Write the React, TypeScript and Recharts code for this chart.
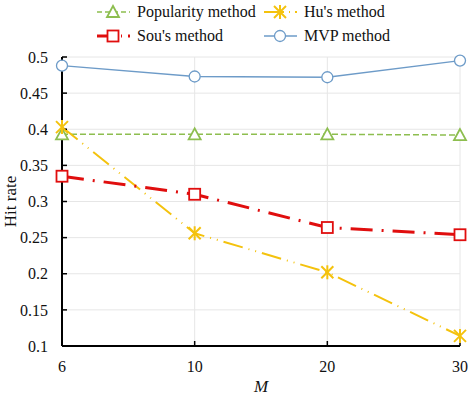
import React from "react";
import { LineChart, Line, XAxis, YAxis, CartesianGrid } from "recharts";

// Chart values
const mValues = ["6", "10", "20", "30"];
const popularity = [0.393, 0.393, 0.393, 0.392];
const hu = [0.403, 0.256, 0.202, 0.114];
const sou = [0.335, 0.31, 0.264, 0.254];
const mvp = [0.488, 0.473, 0.472, 0.495];
const yTicks = [0.1, 0.15, 0.2, 0.25, 0.3, 0.35, 0.4, 0.45, 0.5];

const data = mValues.map((m, i) => ({
    m,
    popularity: popularity[i],
    hu: hu[i],
    sou: sou[i],
    mvp: mvp[i],
}));

const FONT = "'Times New Roman', 'Liberation Serif', Tinos, serif";
const GREEN = "#8DBE4F";
const YELLOW = "#F4C20D";
const RED = "#E00E0E";
const BLUE = "#6D9BC8";

const Triangle = (props: any) => {
    const { cx, cy } = props;
    if (cx == null || cy == null) return null;
    return (
        <polygon
            points={`${cx},${cy - 6} ${cx - 6},${cy + 5} ${cx + 6},${cy + 5}`}
            fill="#fff"
            stroke={GREEN}
            strokeWidth={1.8}
        />
    );
};

const Square = (props: any) => {
    const { cx, cy } = props;
    if (cx == null || cy == null) return null;
    return <rect x={cx - 5.5} y={cy - 5.5} width={11} height={11} fill="#fff" stroke={RED} strokeWidth={1.8} />;
};

const Star = (props: any) => {
    const { cx, cy } = props;
    if (cx == null || cy == null) return null;
    return (
        <g stroke={YELLOW} strokeWidth={2}>
            <line x1={cx - 6} y1={cy - 6} x2={cx + 6} y2={cy + 6} />
            <line x1={cx - 6} y1={cy + 6} x2={cx + 6} y2={cy - 6} />
            <line x1={cx} y1={cy - 7} x2={cx} y2={cy + 7} />
        </g>
    );
};

const Circle = (props: any) => {
    const { cx, cy } = props;
    if (cx == null || cy == null) return null;
    return <circle cx={cx} cy={cy} r={5.5} fill="#fff" stroke={BLUE} strokeWidth={1.3} />;
};

const textStyle = { fontFamily: FONT, fill: "#111" };

const legendItems = [
    { name: "Popularity method", color: GREEN, dash: "5 3", width: 1.5, marker: "tri", x: 97, y: 12 },
    { name: "Hu's method", color: YELLOW, dash: "20 5 1 5", width: 2, marker: "star", x: 264, y: 12 },
    { name: "Sou's method", color: RED, dash: "18 6 1 6", width: 3, marker: "sq", x: 97, y: 36 },
    { name: "MVP method", color: BLUE, dash: undefined, width: 1.3, marker: "circ", x: 264, y: 36 },
];

const LegendOverlay = () => (
    <svg width={474} height={50} style={{ position: "absolute", left: 0, top: 0 }}>
        {legendItems.map((it) => {
            const mx = it.x + 16;
            return (
                <g key={it.name}>
                    <line x1={it.x} y1={it.y} x2={it.x + 33} y2={it.y} stroke={it.color} strokeWidth={it.width} strokeDasharray={it.dash} />
                    {it.marker === "tri" && <Triangle cx={mx} cy={it.y} />}
                    {it.marker === "star" && <Star cx={mx} cy={it.y} />}
                    {it.marker === "sq" && <Square cx={mx} cy={it.y} />}
                    {it.marker === "circ" && <Circle cx={mx} cy={it.y} />}
                    <text x={it.x + 40} y={it.y + 5} fontFamily={FONT} fontSize={16} fill="#111">
                        {it.name}
                    </text>
                </g>
            );
        })}
    </svg>
);

const App: React.FC = () => {
    return (
        <div style={{ position: "fixed", left: 0, top: 0, width: 474, height: 397, background: "#fff", fontFamily: FONT }}>
            <LineChart
                width={474}
                height={397}
                data={data}
                margin={{ top: 57, right: 14, bottom: 0, left: 0 }}
            >
                <CartesianGrid stroke="#e6e6e6" strokeWidth={1} />
                <XAxis
                    dataKey="m"
                    padding={{ left: 0, right: 0 }}
                    axisLine={{ stroke: "#000", strokeWidth: 2 }}
                    tickLine={{ stroke: "#000", strokeWidth: 1.5 }}
                    tickSize={-5}
                    tickMargin={20}
                    height={51}
                    tick={{ fill: "#111", fontSize: 16, fontFamily: FONT }}
                    label={{ value: "M", position: "insideBottom", offset: 5, fill: "#111", fontSize: 17, fontStyle: "italic", fontFamily: FONT }}
                />
                <XAxis xAxisId="top" dataKey="m" orientation="top" axisLine={{ stroke: "#000", strokeWidth: 2 }} tick={false} tickLine={false} height={0} />
                <YAxis
                    domain={[0.1, 0.5]}
                    ticks={yTicks}
                    width={62}
                    interval={0}
                    axisLine={{ stroke: "#000", strokeWidth: 2 }}
                    tickLine={{ stroke: "#000", strokeWidth: 1.5 }}
                    tickSize={-5}
                    tickMargin={19}
                    tickFormatter={(v: number) => String(Number(v.toFixed(2)))}
                    tick={{ fill: "#111", fontSize: 16, fontFamily: FONT }}
                    label={{ value: "Hit rate", angle: -90, position: "insideLeft", offset: 10, fill: "#111", fontSize: 17, fontFamily: FONT, style: { textAnchor: "middle" } }}
                />
                <YAxis yAxisId="right" orientation="right" domain={[0.1, 0.5]} axisLine={{ stroke: "#000", strokeWidth: 2 }} tick={false} tickLine={false} width={0} />
                <Line dataKey="popularity" stroke={GREEN} strokeWidth={1.5} strokeDasharray="6 3" dot={<Triangle />} activeDot={false} isAnimationActive={false} />
                <Line dataKey="hu" stroke={YELLOW} strokeWidth={2} strokeDasharray="20 6 1 6 1 6" dot={<Star />} activeDot={false} isAnimationActive={false} />
                <Line dataKey="sou" stroke={RED} strokeWidth={3} strokeDasharray="22 9 2 9" dot={<Square />} activeDot={false} isAnimationActive={false} />
                <Line dataKey="mvp" stroke={BLUE} strokeWidth={1.3} dot={<Circle />} activeDot={false} isAnimationActive={false} />
            </LineChart>
            <LegendOverlay />
        </div>
    );
};

export default App;
